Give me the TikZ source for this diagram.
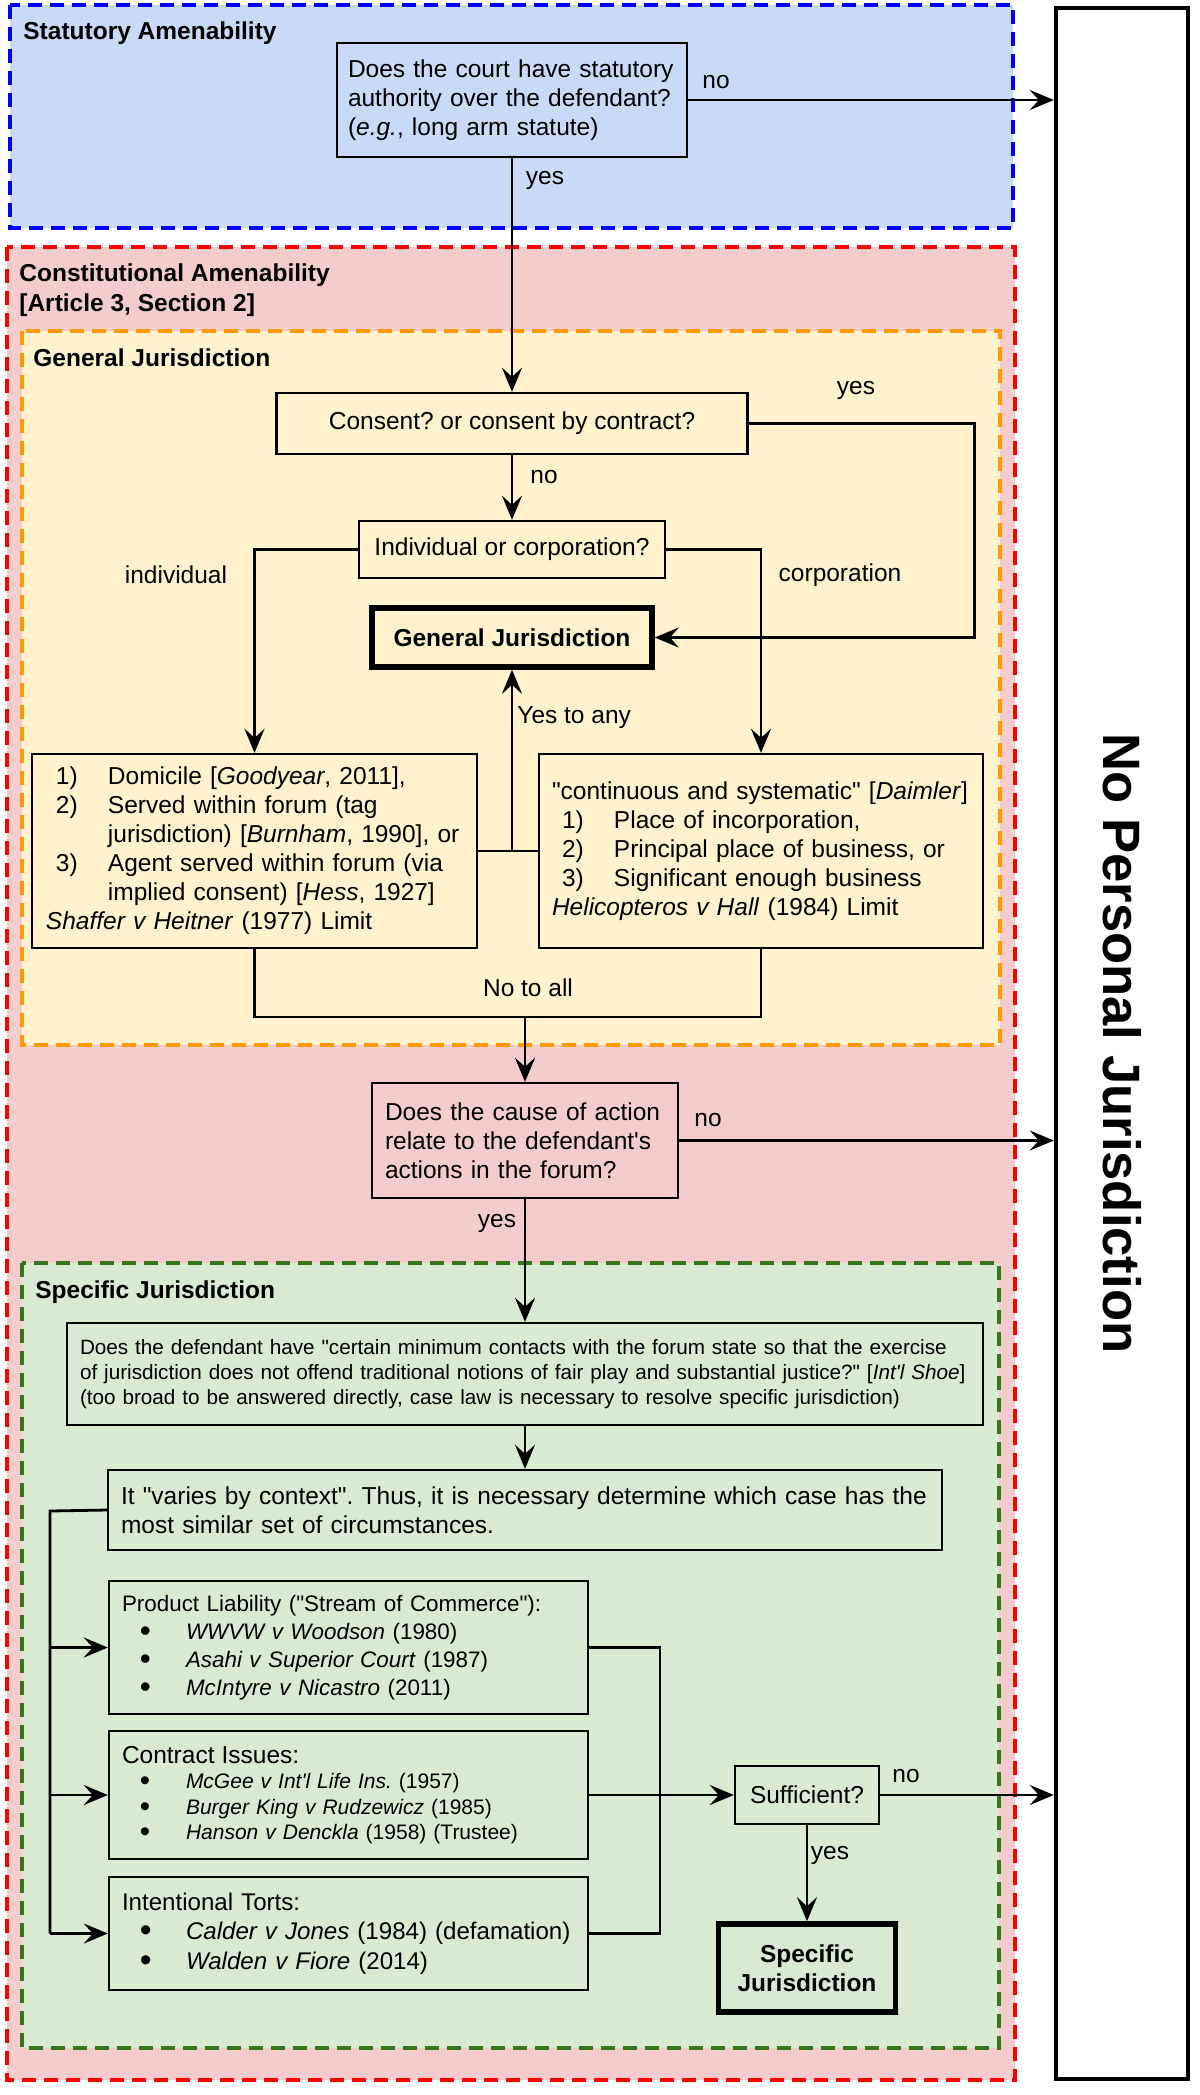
\documentclass[tikz,border=0pt]{standalone}
\usepackage{fontspec}
\setmainfont{Liberation Sans}[Ligatures=TeXOff]
\usetikzlibrary{arrows.meta,positioning,calc}

\definecolor{statfill}{HTML}{C9DAF8}
\definecolor{constfill}{HTML}{F4CCCC}
\definecolor{genfill}{HTML}{FFF2CC}
\definecolor{specfill}{HTML}{D9EAD3}
\definecolor{statline}{HTML}{0000FF}
\definecolor{constline}{HTML}{FF0000}
\definecolor{genline}{HTML}{FF9900}
\definecolor{specline}{HTML}{38761D}

\tikzset{
  region/.style={line width=1.8pt, dash pattern=on 7pt off 4pt},
  box/.style={draw, line width=1.2pt, inner sep=0pt, align=left},
  endbox/.style={box, line width=2.8pt, align=center, font=\bfseries\fontsize{12.25}{14.5}\selectfont},
  title/.style={anchor=west, inner sep=0pt, align=left, font=\bfseries\fontsize{12.25}{15}\selectfont},
  lbl/.style={inner sep=0pt},
  conn/.style={line width=1.4pt},
  arr/.style={conn, -{Stealth[length=12pt,width=10pt,inset=4.5pt]}},
}
\newcommand{\itemno}[1]{\hspace*{5pt}\makebox[26pt][l]{#1}}
\newcommand{\itemcont}{\hspace*{31pt}}
\newcommand{\casebul}{\hspace*{9pt}\makebox[23pt][l]{\raisebox{-1pt}{\scalebox{1.4}{\textbullet}}}}
\frenchspacing

\begin{document}
\begin{tikzpicture}[x=0.5pt, y=-0.5pt, font=\fontsize{12.25}{14.5}\selectfont]
\path[use as bounding box, fill=white] (0,0) rectangle (1200,2095);

% amenability regions
\draw[region, draw=statline, fill=statfill] (10,5) rectangle (1013,228);
\draw[region, draw=constline, fill=constfill] (7,247) rectangle (1015,2080);
\draw[region, draw=genline, fill=genfill] (22,331) rectangle (1000,1045);
\draw[region, draw=specline, fill=specfill] (22,1263) rectangle (999,2048);

\node[title] (statT) at (23,33) {Statutory Amenability};
\node[title] (constT) at (19,290) {Constitutional Amenability\\{[}Article 3, Section 2{]}};
\node[title] (genT) at (33,358) {General Jurisdiction};
\node[title] (specT) at (35,1292) {Specific Jurisdiction};

% outcome on the right
\node[draw, line width=2.2pt, fill=white, minimum width=66pt, minimum height=1035.5pt] (npj) at (1122,1043.5) {};
\node[rotate=-90, font=\bfseries\fontsize{26.3}{30}\selectfont] (npjT) at (npj.center) {No Personal Jurisdiction};

% statutory
\node[box, minimum width=175pt, minimum height=57pt, text width=164pt] (statQ) at (512,100)
  {Does the court have statutory\\authority over the defendant?\\(\textit{e.g.}, long arm statute)};

% general jurisdiction
\node[box, align=center, minimum width=235.5pt, minimum height=30.5pt] (consent) at (512,423.5)
  {Consent? or consent by contract?};
\node[box, align=center, minimum width=153pt, minimum height=28.5pt] (indiv) at (512,549.5)
  {Individual or corporation?};
\node[endbox, minimum width=140pt, minimum height=29.5pt] (genJ) at (512,637.5) {General Jurisdiction};
\node[box, minimum width=222.5pt, minimum height=97pt, text width=208.5pt] (domB) at (254.5,851)
  {\itemno{1)}Domicile [\textit{Goodyear}, 2011],\\
   \itemno{2)}Served within forum (tag\\
   \itemcont\mbox{jurisdiction) [\textit{Burnham}, 1990], or}\\
   \itemno{3)}Agent served within forum (via\\
   \itemcont implied consent) [\textit{Hess}, 1927]\\
   \textit{Shaffer v Heitner} (1977) Limit};
\node[box, minimum width=222pt, minimum height=97pt, text width=209pt] (corpB) at (761,851)
  {\mbox{"continuous and systematic" [\textit{Daimler}]}\\
   \itemno{1)}Place of incorporation,\\
   \itemno{2)}Principal place of business, or\\
   \itemno{3)}Significant enough business\\
   \textit{Helicopteros v Hall} (1984) Limit};

% relatedness
\node[box, minimum width=153pt, minimum height=57.5pt, text width=140pt] (cause) at (525,1140.5)
  {Does the cause of action\\relate to the defendant's\\actions in the forum?};

% specific jurisdiction
\node[box, minimum width=458pt, minimum height=51pt, text width=445pt, font=\fontsize{10.35}{12.5}\selectfont] (minC) at (525,1374)
  {\mbox{Does the defendant have "certain minimum contacts with the forum state so that the exercise}\\
   \mbox{of jurisdiction does not offend traditional notions of fair play and substantial justice?" [\textit{Int'l Shoe}]}\\
   \mbox{(too broad to be answered directly, case law is necessary to resolve specific jurisdiction)}};
\node[box, minimum width=417pt, minimum height=40pt, text width=404pt] (varies) at (525,1510)
  {\mbox{It "varies by context". Thus, it is necessary determine which case has the}\\most similar set of circumstances.};
\node[box, minimum width=239.5pt, minimum height=66.5pt, text width=226.5pt, font=\fontsize{11.2}{14}\selectfont] (prod) at (348.5,1647.5)
  {Product Liability ("Stream of Commerce"):\\
   \casebul\textit{WWVW v Woodson} (1980)\\
   \casebul\textit{Asahi v Superior Court} (1987)\\
   \casebul\textit{McIntyre v Nicastro} (2011)};
\node[box, minimum width=239.5pt, minimum height=64pt, text width=226.5pt, font=\fontsize{10.5}{12.7}\selectfont] (contr) at (348.5,1795)
  {{\fontsize{12.25}{12.7}\selectfont Contract Issues:}\\
   \casebul\textit{McGee v Int'l Life Ins.} (1957)\\
   \casebul\textit{Burger King v Rudzewicz} (1985)\\
   \casebul\textit{Hanson v Denckla} (1958) (Trustee)};
\node[box, minimum width=239.5pt, minimum height=56.5pt, text width=226.5pt, font=\fontsize{12.05}{14.7}\selectfont] (tort) at (348.5,1933.5)
  {Intentional Torts:\\
   \casebul\mbox{\textit{Calder v Jones} (1984) (defamation)}\\
   \casebul\textit{Walden v Fiore} (2014)};
\node[box, align=center, minimum width=72pt, minimum height=29pt] (suff) at (807,1795) {Sufficient?};
\node[endbox, minimum width=88.5pt, minimum height=44pt] (specJ) at (807,1968) {Specific\\Jurisdiction};

% connectors
\draw[arr] (statQ.east) -- (statQ.east -| npj.west);
\node[lbl] (statNo) at (716,82) {no};
\draw[arr] (statQ.south) -- (consent.north);
\node[lbl] (statYes) at (545,180) {yes};

\draw[arr] (consent.east) -- ++(226,0) |- (genJ.east);
\node[lbl] (consYes) at (856,390) {yes};
\draw[arr] (consent.south) -- (indiv.north);
\node[lbl] (consNo) at (544,477) {no};

\draw[arr] (indiv.west) -| (domB.north);
\node[lbl] (indivL) at (176,575) {individual};
\draw[arr] (indiv.east) -| (corpB.north);
\node[lbl] (corpL) at (840,575) {corporation};

\draw[conn] (domB.east) -- (corpB.west);
\draw[arr] (genJ.south |- domB.east) -- (genJ.south);
\node[lbl, anchor=west] (anyL) at (517,718) {Yes to any};

\coordinate (noall) at (525,1017);
\draw[conn] (domB.south) |- (noall) -| (corpB.south);
\draw[arr] (noall) -- (cause.north);
\node[lbl] (noallL) at (528,988) {No to all};

\draw[arr] (cause.east) -- (cause.east -| npj.west);
\node[lbl] (causeNo) at (708,1120) {no};
\draw[arr] (cause.south) -- (minC.north);
\node[lbl] (causeYes) at (497,1223) {yes};

\draw[arr] (minC.south) -- (varies.north);
\coordinate (busL) at (50,1511);
\draw[conn] (varies.west) -- (busL) -- (busL |- tort.west);
\foreach \b in {prod,contr,tort}
  \draw[arr] (busL |- \b.west) -- (\b.west);
\coordinate (busR) at (660,1647.5);
\draw[conn] (prod.east) -- (busR) |- (tort.east);
\draw[arr] (contr.east) -- (suff.west);

\draw[arr] (suff.east) -- (suff.east -| npj.west);
\node[lbl] (suffNo) at (906,1776) {no};
\draw[arr] (suff.south) -- (specJ.north);
\node[lbl] (suffYes) at (830,1855) {yes};
\end{tikzpicture}
\end{document}
